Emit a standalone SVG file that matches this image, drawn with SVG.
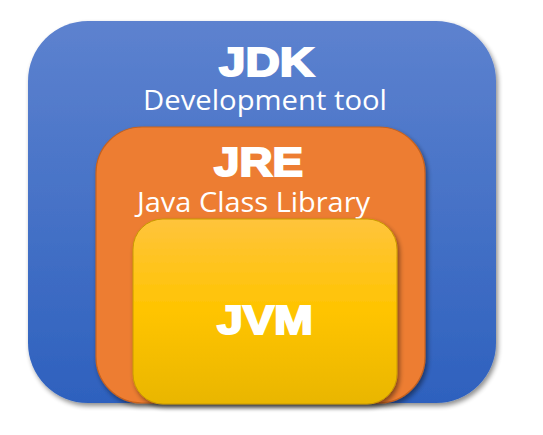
<svg xmlns="http://www.w3.org/2000/svg" width="543" height="435" viewBox="0 0 543 435">
<defs>
<linearGradient id="gBlue" x1="0" y1="0" x2="0" y2="1">
<stop offset="0" stop-color="#5d82cf"/>
<stop offset="1" stop-color="#2e61be"/>
</linearGradient>
<linearGradient id="gYel" x1="0" y1="0" x2="0" y2="1">
<stop offset="0" stop-color="#ffc43c"/>
<stop offset="0.5" stop-color="#ffc400"/>
<stop offset="1" stop-color="#e9b600"/>
</linearGradient>
<filter id="sh" x="-10%" y="-10%" width="125%" height="125%">
<feGaussianBlur in="SourceAlpha" stdDeviation="2.5"/>
<feOffset dx="2" dy="3"/>
<feComponentTransfer><feFuncA type="linear" slope="0.45"/></feComponentTransfer>
<feMerge><feMergeNode/><feMergeNode in="SourceGraphic"/></feMerge>
</filter>
</defs>
<style>
.big{font-family:"Liberation Sans",Arial,sans-serif;font-weight:bold;fill:#fff;stroke:#fff;stroke-width:2;text-anchor:middle;font-size:40px}
.sub{font-family:"Open Sans","Noto Sans",sans-serif;fill:#fff;text-anchor:middle;font-size:27.5px}
</style>
<rect width="543" height="435" fill="#fff"/>
<g id="jdk">
<rect x="28" y="21" width="468" height="382" rx="60" ry="60" fill="url(#gBlue)" filter="url(#sh)"/>
<text class="big" x="266.5" y="76" textLength="95" lengthAdjust="spacingAndGlyphs">JDK</text>
<text class="sub" x="265" y="110" textLength="244" lengthAdjust="spacingAndGlyphs">Development tool</text>
</g>
<g id="jre">
<rect x="96" y="127" width="329" height="276" rx="46" ry="46" fill="#ed7d31" stroke="#c8621e" stroke-width="1.2" filter="url(#sh)"/>
<text class="big" x="258.5" y="176" textLength="89" lengthAdjust="spacingAndGlyphs">JRE</text>
<text class="sub" x="253.5" y="212" textLength="233" lengthAdjust="spacingAndGlyphs">Java Class Library</text>
</g>
<g id="jvm">
<rect x="133" y="219" width="264" height="185" rx="30" ry="30" fill="url(#gYel)" stroke="#c99a00" stroke-width="1" filter="url(#sh)"/>
<text class="big" x="265" y="334" textLength="96" lengthAdjust="spacingAndGlyphs">JVM</text>
</g>
<g id="connectors"/>
</svg>
